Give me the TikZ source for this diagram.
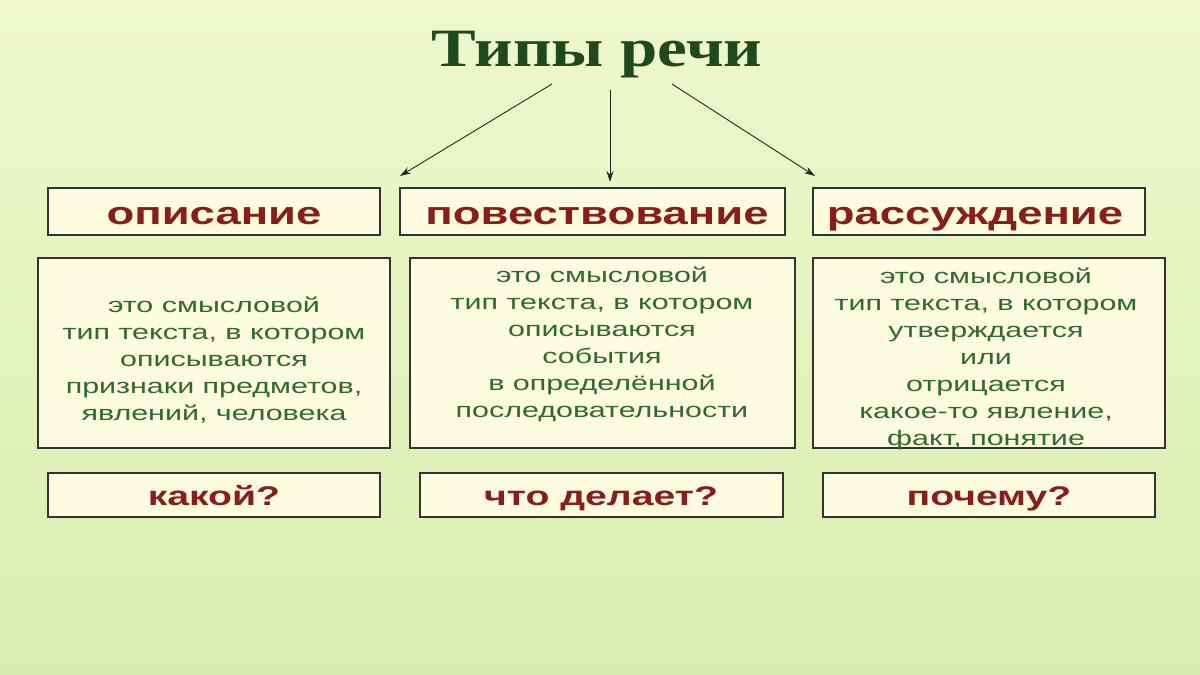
\documentclass[tikz,border=0pt]{standalone}
\usepackage{fontspec}
\usetikzlibrary{arrows.meta}
\setmainfont{Liberation Sans}
\newfontfamily\wide[FakeStretch=1.42]{Liberation Sans}
\newfontfamily\wideb[FakeStretch=1.45]{Liberation Sans}
\newfontfamily\titlefont[FakeStretch=1.24]{Liberation Serif}
\definecolor{bgtop}{HTML}{EEF8CC}
\definecolor{bgbot}{HTML}{D8EEB0}
\definecolor{boxfill}{HTML}{FDFBE0}
\definecolor{hdr}{HTML}{8A1C1C}
\definecolor{bodyc}{HTML}{2F6A2F}
\definecolor{ttl}{HTML}{1E4A1E}
\begin{document}
\begin{tikzpicture}[x=1pt,y=-1pt,
  hbox/.style={draw=black!80,line width=1.2pt,fill=boxfill,inner sep=0pt},
  htext/.style={font=\wide\bfseries\fontsize{32}{32}\selectfont,text=hdr,anchor=base},
  qtext/.style={font=\wideb\bfseries\fontsize{27}{27}\selectfont,text=hdr,anchor=base},
  btext/.style={font=\wideb\fontsize{21}{27}\selectfont,text=bodyc,align=center},
  arr/.style={-{Stealth[length=11pt,width=7pt]},line width=0.9pt,black!85}]
\shade[top color=bgtop,bottom color=bgbot] (0,0) rectangle (1200,675);
\useasboundingbox (0,0) rectangle (1200,675);
\node[font=\titlefont\bfseries\fontsize{54}{54}\selectfont,text=ttl] (title) at (597,55) {Типы речи};
% header boxes
\draw[hbox] (48,188) rectangle (380,235); \node[htext] (h1) at (214,224) {описание};
\draw[hbox] (400,188) rectangle (785,235); \node[htext] (h2) at (597,224) {повествование};
\draw[hbox] (813,188) rectangle (1145,235); \node[htext] (h3) at (975,224) {рассуждение};
\coordinate (a1) at (400,176); \coordinate (a2) at (610,182); \coordinate (a3) at (815,176);
\coordinate (s1) at (552,84); \coordinate (s2) at (610,90); \coordinate (s3) at (672,84);
\draw[arr] (s1) -- (a1); \draw[arr] (s2) -- (a2); \draw[arr] (s3) -- (a3);
% middle boxes
\draw[hbox] (38,258) rectangle (390,448);
\node[btext] (m1) at (214,360) {это смысловой\\тип текста, в котором\\описываются\\признаки предметов,\\явлений, человека};
\draw[hbox] (410,258) rectangle (795,448);
\node[btext] (m2) at (602,344) {это смысловой\\тип текста, в котором\\описываются\\события\\в определённой\\последовательности};
\draw[hbox] (813,258) rectangle (1165,448);
\node[btext] (m3) at (986,359) {это смысловой\\тип текста, в котором\\утверждается\\или\\отрицается\\какое-то явление,\\факт, понятие};
% bottom boxes
\draw[hbox] (48,473) rectangle (380,517); \node[qtext] (b1) at (214,505) {какой?};
\draw[hbox] (420,473) rectangle (783,517); \node[qtext] (b2) at (601,505) {что делает?};
\draw[hbox] (823,473) rectangle (1155,517); \node[qtext] (b3) at (989,505) {почему?};
\end{tikzpicture}
\end{document}
